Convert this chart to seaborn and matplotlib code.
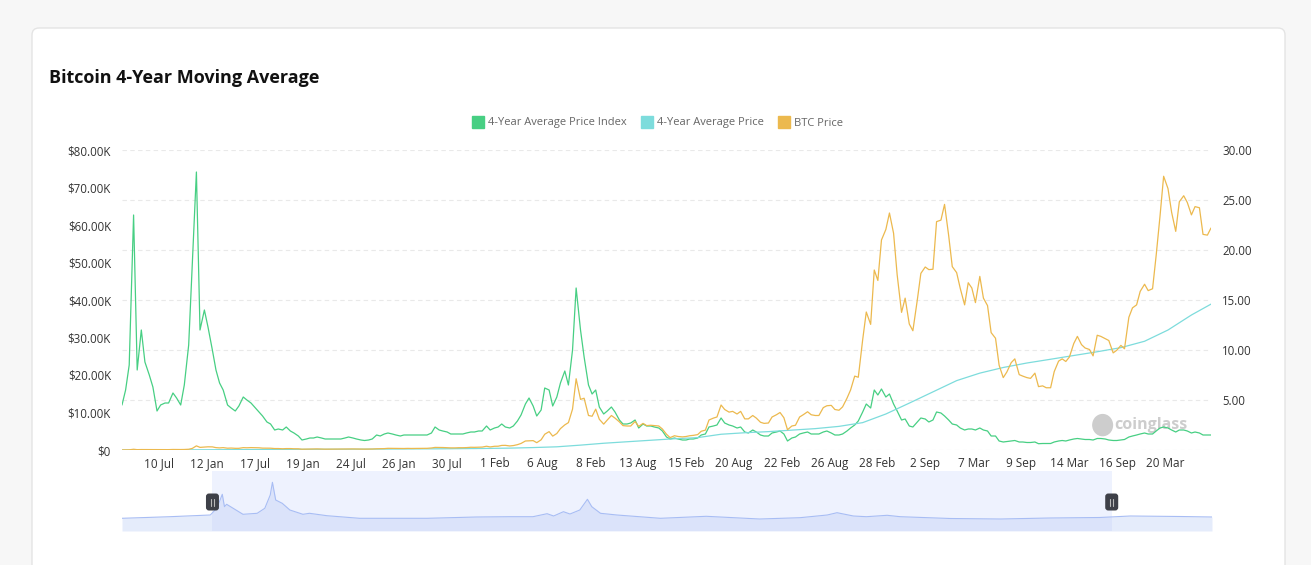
"""
Bitcoin 4-Year Moving Average: BTC price, 4-year average price and the
4-year average price index, with the zoom-slider overview underneath.
"""
import pandas as pd
import matplotlib
matplotlib.use('Agg')
import matplotlib.pyplot as plt
import matplotlib.dates as mdates
from matplotlib.lines import Line2D
from matplotlib.patches import FancyBboxPatch, Ellipse
from matplotlib.ticker import FixedLocator, FuncFormatter
from matplotlib.transforms import IdentityTransform
import seaborn as sns

# ---- data: semi-monthly samples (1st / 15th), 2013-02-15 .. 2024-09-15 ----
# 4-Year Average Price Index (right axis)
INDEX_2013 = [4.5, 6.0, 8.5, 23.5, 8.0, 12.0, 8.8, 7.5, 6.3, 3.9, 4.5, 4.7, 4.7,
              5.7, 5.2, 4.5, 6.5, 10.5, 18.5, 27.8, 12.0]
INDEX_2014 = [14.0, 12.3, 10.0, 8.0, 6.7, 6.0, 4.5, 4.2, 3.9, 4.4, 5.3, 5.0,
              4.7, 4.3, 3.8, 3.4, 2.8, 2.6, 2.0, 2.1, 2.0, 2.3, 1.9, 1.7]
INDEX_2015 = [1.4, 1.0, 1.1, 1.2, 1.2, 1.3, 1.2, 1.1, 1.1, 1.1, 1.1, 1.1,
              1.2, 1.3, 1.2, 1.1, 1.0, 0.95, 1.0, 1.1, 1.5, 1.4, 1.6, 1.7]
INDEX_2016 = [1.6, 1.5, 1.4, 1.5, 1.5, 1.5, 1.5, 1.5, 1.5, 1.5, 1.7, 2.3,
              2.0, 1.9, 1.8, 1.6, 1.6, 1.6, 1.6, 1.7, 1.8, 1.8, 1.9, 1.9]
INDEX_2017 = [2.4, 2.0, 2.2, 2.3, 2.6, 2.3, 2.2, 2.4, 2.9, 3.5, 4.6, 5.2,
              4.4, 3.4, 4.0, 6.2, 6.0, 4.4, 5.3, 6.7, 7.9, 6.5, 10.0, 16.2]
INDEX_2018 = [12.0, 9.3, 6.5, 5.6, 6.0, 4.3, 3.6, 3.9, 4.3, 3.8, 3.0, 2.6,
              2.6, 2.7, 3.0, 2.2, 2.6, 2.4, 2.4, 2.3, 2.2, 1.9, 1.3, 1.1]
INDEX_2019 = [1.2, 1.1, 1.0, 1.0, 1.1, 1.1, 1.2, 1.5, 1.6, 2.3, 2.4, 2.5,
              3.2, 2.7, 2.5, 2.4, 2.2, 2.3, 1.8, 1.7, 2.0, 1.8, 1.5, 1.4]
INDEX_2020 = [1.4, 1.7, 1.8, 1.9, 1.6, 0.9, 1.2, 1.3, 1.6, 1.7, 1.8, 1.6,
              1.6, 1.6, 1.8, 1.9, 1.7, 1.5, 1.5, 1.6, 1.9, 2.2, 2.5, 2.9]
INDEX_2021 = [3.8, 4.6, 4.2, 6.0, 5.5, 6.1, 5.3, 5.6, 4.6, 3.9, 3.0, 3.1,
              2.4, 2.3, 2.8, 3.2, 3.1, 2.8, 3.0, 3.8, 3.7, 3.4, 3.0, 2.6]
INDEX_2022 = [2.5, 2.2, 2.0, 2.1, 2.1, 2.0, 2.2, 2.0, 1.9, 1.4, 1.4, 0.9,
              0.8, 0.85, 0.9, 0.95, 0.8, 0.8, 0.75, 0.75, 0.8, 0.63, 0.65, 0.65]
INDEX_2023 = [0.65, 0.8, 0.9, 0.95, 0.9, 1.0, 1.1, 1.15, 1.1, 1.05, 1.05, 1.0,
              1.15, 1.15, 1.1, 1.0, 0.95, 0.95, 1.0, 1.05, 1.3, 1.4, 1.5, 1.6]
INDEX_2024 = [1.7, 1.6, 1.6, 1.9, 2.2, 2.3, 2.2, 2.0, 1.8, 2.0, 2.0, 1.9,
              1.7, 1.8, 1.7, 1.5, 1.5, 1.5]

# BTC Price in $K (left axis)
BTC_2013 = [0.027, 0.034, 0.047, 0.20, 0.09, 0.12, 0.115, 0.128, 0.10, 0.088,
            0.098, 0.105, 0.098, 0.14, 0.13, 0.125, 0.14, 0.20, 0.42, 1.10, 0.70]
BTC_2014 = [0.77, 0.85, 0.83, 0.63, 0.56, 0.63, 0.48, 0.52, 0.45, 0.45, 0.63, 0.59,
            0.64, 0.62, 0.59, 0.50, 0.48, 0.48, 0.39, 0.39, 0.33, 0.38, 0.38, 0.33]
BTC_2015 = [0.32, 0.21, 0.23, 0.26, 0.26, 0.29, 0.25, 0.22, 0.23, 0.24, 0.23, 0.24,
            0.26, 0.29, 0.28, 0.26, 0.23, 0.23, 0.24, 0.26, 0.32, 0.33, 0.37, 0.45]
BTC_2016 = [0.43, 0.39, 0.37, 0.40, 0.43, 0.41, 0.42, 0.43, 0.45, 0.45, 0.54, 0.69,
            0.68, 0.66, 0.61, 0.57, 0.57, 0.61, 0.61, 0.64, 0.73, 0.71, 0.75, 0.78]
BTC_2017 = [1.0, 0.82, 0.99, 1.01, 1.22, 1.24, 1.08, 1.18, 1.42, 1.75, 2.4, 2.45,
            2.5, 1.95, 2.72, 4.2, 4.9, 3.7, 4.4, 5.7, 6.7, 7.3, 10.9, 19.0]
BTC_2018 = [13.5, 13.8, 9.2, 9.0, 10.9, 8.2, 6.9, 8.0, 9.2, 8.5, 7.5, 6.5,
            6.4, 6.4, 7.6, 6.3, 7.1, 6.5, 6.6, 6.5, 6.4, 5.6, 4.2, 3.3]
BTC_2019 = [3.8, 3.6, 3.5, 3.6, 3.8, 3.9, 4.1, 5.0, 5.3, 8.0, 8.5, 8.8,
            12.0, 10.8, 10.1, 10.3, 9.6, 10.3, 8.3, 8.3, 9.2, 8.5, 7.4, 7.1]
BTC_2020 = [7.2, 8.8, 9.4, 10.0, 8.6, 5.4, 6.4, 6.6, 8.8, 9.4, 10.2, 9.4,
            9.2, 9.2, 11.3, 11.8, 11.9, 10.8, 10.6, 11.5, 13.8, 16.0, 19.7, 19.4]
BTC_2021 = [29.4, 36.8, 33.5, 48.0, 45.2, 56.0, 58.8, 63.2, 57.8, 46.7, 36.7, 40.5,
            33.6, 31.8, 39.9, 47.1, 48.8, 48.1, 48.2, 60.9, 61.3, 65.5, 57.2, 48.9]
BTC_2022 = [47.3, 43.1, 38.7, 44.6, 43.2, 39.3, 46.3, 40.5, 38.5, 31.3, 29.8, 22.6,
            19.3, 20.8, 23.3, 24.3, 20.1, 19.7, 19.3, 19.1, 20.5, 16.9, 17.1, 16.6]
BTC_2023 = [16.6, 20.9, 23.7, 24.3, 23.6, 24.8, 28.4, 30.3, 28.1, 27.2, 26.8, 25.1,
            30.6, 30.3, 29.7, 29.2, 25.9, 26.6, 27.9, 27.0, 35.4, 37.9, 38.7, 42.3]
BTC_2024 = [44.2, 42.5, 43.0, 51.9, 62.4, 73.0, 69.7, 63.4, 58.3, 66.2, 67.8, 66.0,
            62.7, 64.9, 64.6, 57.5, 57.3, 59.2]

# 4-Year Average Price in $K (left axis), quarterly
AVG_DATES = ['2013-02-15', '2013-07-01', '2014-01-01', '2014-07-01', '2015-01-01',
             '2015-07-01', '2016-01-01', '2016-07-01', '2017-01-01', '2017-04-01',
             '2017-07-01', '2017-10-01', '2018-01-01', '2018-04-01', '2018-07-01',
             '2018-10-01', '2019-01-01', '2019-04-01', '2019-07-01', '2019-10-01',
             '2020-01-01', '2020-04-01', '2020-07-01', '2020-10-01', '2021-01-01',
             '2021-04-01', '2021-07-01', '2021-10-01', '2022-01-01', '2022-04-01',
             '2022-07-01', '2022-10-01', '2023-01-01', '2023-04-01', '2023-07-01',
             '2023-10-01', '2024-01-01', '2024-04-01', '2024-07-01', '2024-09-15']
AVG_PRICE = [0.005, 0.01, 0.06, 0.12, 0.18, 0.21, 0.26, 0.32, 0.42, 0.5,
             0.65, 0.85, 1.3, 1.8, 2.2, 2.6, 3.0, 3.3, 4.2, 4.6,
             4.9, 5.3, 5.7, 6.3, 7.3, 9.6, 12.5, 15.5, 18.5, 20.5,
             22.0, 23.2, 24.2, 25.2, 26.2, 27.3, 29.0, 32.0, 36.0, 38.9]

# x-axis labels (every 186 days)
TICK_DATES = ['2013-07-10', '2014-01-12', '2014-07-17', '2015-01-19', '2015-07-24',
              '2016-01-26', '2016-07-30', '2017-02-01', '2017-08-06', '2018-02-08',
              '2018-08-13', '2019-02-15', '2019-08-20', '2020-02-22', '2020-08-26',
              '2021-02-28', '2021-09-02', '2022-03-07', '2022-09-09', '2023-03-14',
              '2023-09-16', '2024-03-20']

# zoom slider overview (position in % of full range, relative level)
OVERVIEW_POS = [0, 4.4, 8.1, 8.7, 9.2, 9.4, 9.6, 10.2, 11.1, 12.4, 13.1, 13.6,
                13.8, 14.1, 14.7, 15.4, 16.6, 17.2, 18.8, 21.8, 28.0, 32.5,
                35.6, 37.7, 39.0, 39.6, 40.5, 41.1, 42.0, 42.7, 43.1, 43.9,
                45.4, 49.4, 53.6, 58.5, 62.2, 64.7, 65.6, 67.1, 68.3, 70.2,
                71.4, 76.0, 80.6, 85.1, 89.7, 92.5, 97.1, 100]
OVERVIEW_LEVEL = [12.7, 14.3, 16.0, 22.7, 36.7, 24.3, 26.7, 22.7, 16.7, 17.7,
                  22.7, 36.0, 48.7, 31.0, 27.7, 21.0, 16.7, 17.7, 15.3, 12.7,
                  12.7, 14.0, 14.3, 14.3, 17.3, 15.0, 19.3, 17.0, 21.0, 31.7,
                  24.3, 17.7, 16.0, 12.7, 14.7, 12.0, 13.3, 16.0, 18.3, 15.0,
                  14.3, 15.7, 14.3, 12.5, 12.0, 13.0, 13.5, 15.0, 14.5, 14.0]
SELECT_START, SELECT_END = 8.3, 90.8

LABELS = ['4-Year Average Price Index', '4-Year Average Price', 'BTC Price']
COLORS = ['#47cf83', '#7ddcdc', '#ecb94e']

W, H = 1311, 565

sns.set_theme(style='white')
plt.rcParams['font.family'] = ['Open Sans', 'DejaVu Sans']

index_vals = (INDEX_2013 + INDEX_2014 + INDEX_2015 + INDEX_2016 + INDEX_2017 + INDEX_2018
              + INDEX_2019 + INDEX_2020 + INDEX_2021 + INDEX_2022 + INDEX_2023 + INDEX_2024)
btc_vals = (BTC_2013 + BTC_2014 + BTC_2015 + BTC_2016 + BTC_2017 + BTC_2018
            + BTC_2019 + BTC_2020 + BTC_2021 + BTC_2022 + BTC_2023 + BTC_2024)
dates = pd.date_range('2013-02-01', '2024-09-30', freq='SMS')[1:]
df = pd.DataFrame({'date': dates, 'index': index_vals, 'btc': btc_vals})
avg = pd.DataFrame({'date': pd.to_datetime(AVG_DATES), 'avg': AVG_PRICE})

fig = plt.figure(figsize=(W / 100, H / 100), dpi=100)
fig.patch.set_facecolor('#f7f7f7')

# white card
card = FancyBboxPatch((32, -20), 1253, 557, boxstyle='round,pad=0,rounding_size=7',
                      transform=IdentityTransform(), facecolor='white',
                      edgecolor='#e4e4e4', linewidth=1, zorder=-1)
fig.add_artist(card)

fig.text(49 / W, 1 - 78 / H, 'Bitcoin 4-Year Moving Average', fontsize=13,
         fontweight='bold', color='#111111', va='center', ha='left')

# main chart: index on ax (right ticks), prices on twin (left ticks)
ax = fig.add_axes([122 / W, 1 - 450 / H, 1089 / W, 300 / H])
ax.set_facecolor('none')
ax_px = ax.twinx()
ax.yaxis.tick_right()
ax_px.yaxis.tick_left()

sns.lineplot(data=df, x='date', y='index', ax=ax, color=COLORS[0], linewidth=0.9,
             legend=False)
sns.lineplot(data=avg, x='date', y='avg', ax=ax_px, color=COLORS[1], linewidth=0.9,
             legend=False)
sns.lineplot(data=df, x='date', y='btc', ax=ax_px, color=COLORS[2], linewidth=0.9,
             legend=False)

ax.set_xlim(df['date'].iloc[0], df['date'].iloc[-1])
ax.set_ylim(0, 30)
ax_px.set_ylim(0, 80)

ax.yaxis.set_major_locator(FixedLocator([0, 5, 10, 15, 20, 25, 30]))
ax.yaxis.set_major_formatter(FuncFormatter(lambda v, p: '' if v == 0 else f'{v:.2f}'))
ax_px.yaxis.set_major_locator(FixedLocator(range(0, 90, 10)))
ax_px.yaxis.set_major_formatter(
    FuncFormatter(lambda v, p: '$0' if v == 0 else f'${v:.2f}K'))

tick_nums = mdates.date2num(pd.to_datetime(TICK_DATES))
ax.xaxis.set_major_locator(FixedLocator(tick_nums))
ax.xaxis.set_major_formatter(
    FuncFormatter(lambda v, p: f'{mdates.num2date(v).day} {mdates.num2date(v):%b}'))

ax.grid(axis='y', color='#e9e9e9', linestyle=(0, (4, 3)), linewidth=0.8)
ax.grid(axis='x', visible=False)
ax_px.grid(False)
for a in (ax, ax_px):
    for s in a.spines.values():
        s.set_visible(False)
    a.set_xlabel('')
    a.set_ylabel('')
ax.tick_params(axis='y', length=0, pad=8, labelsize=8.3, labelcolor='#333333')
ax_px.tick_params(axis='y', length=0, pad=8, labelsize=8.3, labelcolor='#333333')
ax.tick_params(axis='x', length=0, pad=5, labelsize=8.5, labelcolor='#333333')

# watermark
ax.add_patch(Ellipse((0.9 + 0.0005, 0.083), 0.018, 0.07, transform=ax.transAxes,
                     color='#cdcdcd', zorder=0))
ax.text(0.9108, 0.083, 'coinglass', transform=ax.transAxes, fontsize=11.5,
        fontweight='bold', color='#cdcdcd', va='center', ha='left', zorder=0)

# legend
handles = [Line2D([], [], marker='s', linestyle='', markersize=8, color=c) for c in COLORS]
fig.legend(handles, LABELS, loc='center', bbox_to_anchor=(658 / W, 1 - 123 / H),
           ncol=3, frameon=False, handlelength=0.8, handletextpad=0.5,
           columnspacing=1.4, fontsize=8, labelcolor='#666666')

# zoom slider
ov = fig.add_axes([122 / W, 1 - 531 / H, 1090 / W, 60 / H])
ov.set_xlim(0, 100)
ov.set_ylim(0, 60)
ov.axvspan(SELECT_START, SELECT_END, color='#eef2fe', zorder=0, linewidth=0)
ov.fill_between(OVERVIEW_POS, 0, OVERVIEW_LEVEL, color='#bccdf5', alpha=0.38,
                linewidth=0, zorder=1)
sns.lineplot(x=OVERVIEW_POS, y=OVERVIEW_LEVEL, ax=ov, color='#a8bdf4', linewidth=0.8,
             zorder=2)
ov.set_axis_off()

fig.canvas.draw()
for xpos in (SELECT_START, SELECT_END):
    px, py = ov.transData.transform((xpos, 29))
    fig.add_artist(FancyBboxPatch((px - 6.5, py - 8.5), 13, 17,
                                  boxstyle='round,pad=0,rounding_size=3',
                                  transform=IdentityTransform(), facecolor='#3e4048',
                                  edgecolor='none', zorder=5))
    for dx in (-1.5, 1.5):
        fig.add_artist(Line2D([px + dx, px + dx], [py - 3.5, py + 3.5],
                              transform=IdentityTransform(), color='#b8b8b8',
                              linewidth=0.8, zorder=6))

fig.savefig('out.png', dpi=100, facecolor=fig.get_facecolor())
